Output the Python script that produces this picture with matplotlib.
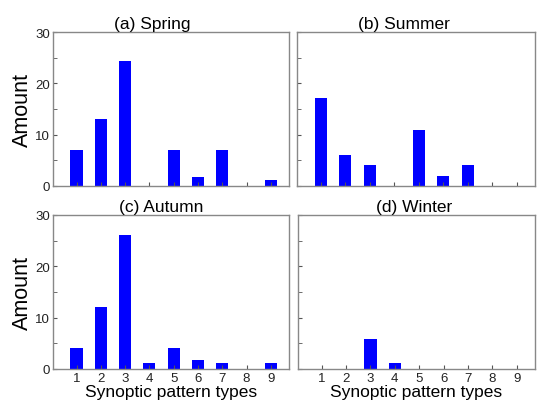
import numpy as np
import matplotlib
matplotlib.use("Agg")
import matplotlib.pyplot as plt
from matplotlib.ticker import MultipleLocator

plt.rcParams['font.family'] = ['Liberation Sans', 'DejaVu Sans']

types = [1, 2, 3, 4, 5, 6, 7, 8, 9]
spring = [7, 13, 24.3, 0, 7, 1.8, 7, 0, 1.1]
summer = [17.1, 6, 4.1, 0, 11, 2, 4.1, 0, 0]
autumn = [4, 12.1, 26.1, 1.1, 4, 1.7, 1.1, 0, 1.1]
winter = [0, 0, 5.9, 1.2, 0, 0, 0, 0, 0]
titles = ['(a) Spring', '(b) Summer', '(c) Autumn', '(d) Winter']
title_x = [0.42, 0.45, 0.46, 0.49]

fig = plt.figure(figsize=(5.5, 4.1), dpi=100)
W, H = 550.0, 410.0
boxes = [(53, 33, 289, 187), (297, 33, 535, 187),
         (53, 216, 289, 370), (298, 216, 535, 370)]
data = [spring, summer, autumn, winter]

for i, (x0, y0, x1, y1) in enumerate(boxes):
    ax = fig.add_axes([x0 / W, 1 - y1 / H, (x1 - x0) / W, (y1 - y0) / H])
    ax.bar(types, data[i], width=0.5, color='#0000ff')
    ax.set_xlim(0.03, 9.75)
    ax.set_ylim(0, 30)
    ax.set_xticks(types)
    ax.yaxis.set_major_locator(MultipleLocator(10))
    ax.yaxis.set_minor_locator(MultipleLocator(5))
    ax.tick_params(direction='in', which='both', color='#555555',
                   labelsize=9.5, labelcolor='#222222', pad=2)
    ax.tick_params(which='major', length=3)
    ax.tick_params(which='minor', length=3)
    for s in ax.spines.values():
        s.set_color('#888888')
        s.set_linewidth(1.0)
    ax.set_title(titles[i], fontsize=12.5, x=title_x[i], pad=3)
    if i % 2 == 0:
        ax.set_ylabel('Amount', fontsize=15.5, labelpad=2)
    else:
        ax.set_yticklabels([])
    if i < 2:
        ax.set_xticklabels([])
    else:
        ax.set_xlabel('Synoptic pattern types', fontsize=12.5, labelpad=0)

fig.savefig('out.png', dpi=100)
